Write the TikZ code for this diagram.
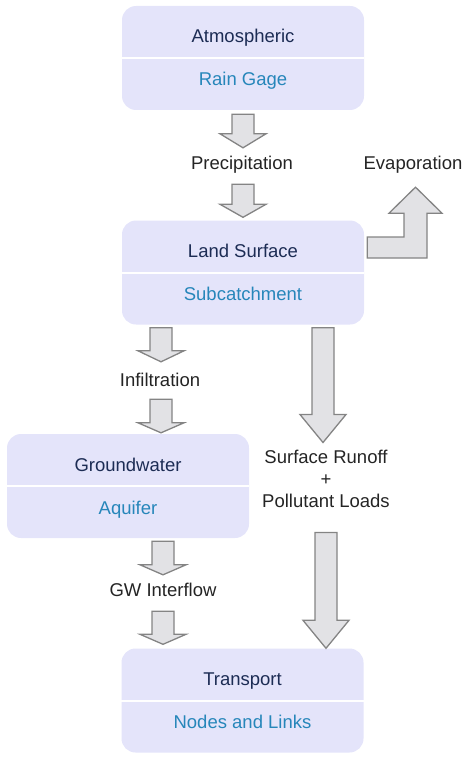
\documentclass[tikz,border=0pt]{standalone}
\usepackage{fontspec}
\setmainfont{Liberation Sans}
\usetikzlibrary{calc}
\newcommand{\swmmfont}{\fontsize{18.5}{22}\selectfont}
\begin{document}
\begin{tikzpicture}[x=1pt,y=-1pt]
    \definecolor{swmm_box}{RGB}{228,228,250}
    \definecolor{swmm_title}{RGB}{28,44,84}
    \definecolor{swmm_sub}{RGB}{38,134,186}
    \definecolor{swmm_label}{RGB}{36,36,36}
    \definecolor{swmm_arrow}{RGB}{226,226,229}
    \definecolor{swmm_arrowline}{RGB}{132,132,132}
    \tikzset{
      stage/.style={shape=rectangle,fill=swmm_box,rounded corners=14pt,minimum width=242pt,minimum height=104pt,inner sep=0pt},
      stagetitle/.style={anchor=base,text=swmm_title,font=\swmmfont},
      stagesub/.style={anchor=base,text=swmm_sub,font=\swmmfont},
      flowlabel/.style={anchor=base,text=swmm_label,font=\swmmfont,inner sep=0pt,text height=14pt,text depth=4pt},
      flowarrow/.style={draw=swmm_arrowline,fill=swmm_arrow,line width=1.3pt,line join=miter},
      flow/.style={to path={let \p1=(\tikztostart), \p2=(\tikztotarget) in
        (\x1-11pt,\y1) -- (\x1+11pt,\y1) -- (\x1+11pt,\y2+#1) -- (\x1+23pt,\y2+#1) -- (\x1,\y2)
        -- (\x1-23pt,\y2+#1) -- (\x1-11pt,\y2+#1) -- cycle}},
      elbowflow/.style={to path={let \p1=(\tikztostart), \p2=(\tikztotarget) in
        (\x1,\y1-10.5pt) -- (\x2+11.5pt,\y1-10.5pt) -- (\x2+11.5pt,\y2-26pt) -- (\x2+26.5pt,\y2-26pt) -- (\x2,\y2)
        -- (\x2-26.5pt,\y2-26pt) -- (\x2-11.5pt,\y2-26pt) -- (\x2-11.5pt,\y1+10.5pt) -- (\x1,\y1+10.5pt) -- cycle}}
    }
    \useasboundingbox (0,0) rectangle (474,757);
    % the four stages
    \node[stage] (atmo)   at (243,58)    {};
    \node[stage] (land)   at (243,272.5) {};
    \node[stage] (ground) at (128,486)   {};
    \node[stage] (trans)  at (242.5,700.5) {};
    \foreach \s in {atmo,land,ground,trans}
      \draw[white,line width=2pt] (\s.west) -- (\s.east);
    \node[stagetitle] (atmotitle)   at ($(atmo)+(0,-15)$)   {Atmospheric};
    \node[stagesub]   (atmosub)     at ($(atmo)+(0,28)$)    {Rain Gage};
    \node[stagetitle] (landtitle)   at ($(land)+(0,-15)$)   {Land Surface};
    \node[stagesub]   (landsub)     at ($(land)+(0,28)$)    {Subcatchment};
    \node[stagetitle] (groundtitle) at ($(ground)+(0,-15)$) {Groundwater};
    \node[stagesub]   (groundsub)   at ($(ground)+(0,28)$)  {Aquifer};
    \node[stagetitle] (transtitle)  at ($(trans)+(0,-15)$)  {Transport};
    \node[stagesub]   (transsub)    at ($(trans)+(0,28)$)   {Nodes and Links};
    % flow labels
    \node[flowlabel] (precip) at (242,169) {Precipitation};
    \node[flowlabel] (evap)   at (413,169) {Evaporation};
    \node[flowlabel] (infil)  at (160,386) {Infiltration};
    \node[flowlabel] (gw)     at (163,596) {GW Interflow};
    \node[anchor=north,align=center,text=swmm_label,font=\swmmfont,inner sep=0pt] (runoff) at (326,449.5) {Surface Runoff\\+\\Pollutant Loads};
    % block arrows
    \draw[flowarrow] ($(atmo.south)+(0,4)$) to[flow=14pt] ($(precip.north)+(0,-7)$);
    \draw[flowarrow] ($(precip.south)+(1,11)$) to[flow=13pt] ($(land.north)+(0,-3)$);
    \draw[flowarrow] ($(land.east)+(3,-25)$) to[elbowflow] ($(evap.south)+(2.5,14)$);
    \draw[flowarrow] ($(land.south -| infil)+(1,3)$) to[flow=11pt] ($(infil.north)+(0,-10)$);
    \draw[flowarrow] ($(infil.south)+(1,9)$) to[flow=10pt] ($(ground.north -| infil)+(0,-1)$);
    \draw[flowarrow] ($(ground.south -| gw)+(0,3)$) to[flow=10pt] ($(gw.north)+(0,-7)$);
    \draw[flowarrow] ($(gw.south)+(0,11)$) to[flow=10pt] ($(trans.north -| gw)+(0,-4)$);
    \draw[flowarrow] ($(land.south -| runoff)+(-3,3)$) to[flow=28pt] ($(runoff.north)+(0,-7)$);
    \draw[flowarrow] ($(runoff.south)+(0,25)$) to[flow=28pt] (trans.north -| runoff);
\end{tikzpicture}
\end{document}
